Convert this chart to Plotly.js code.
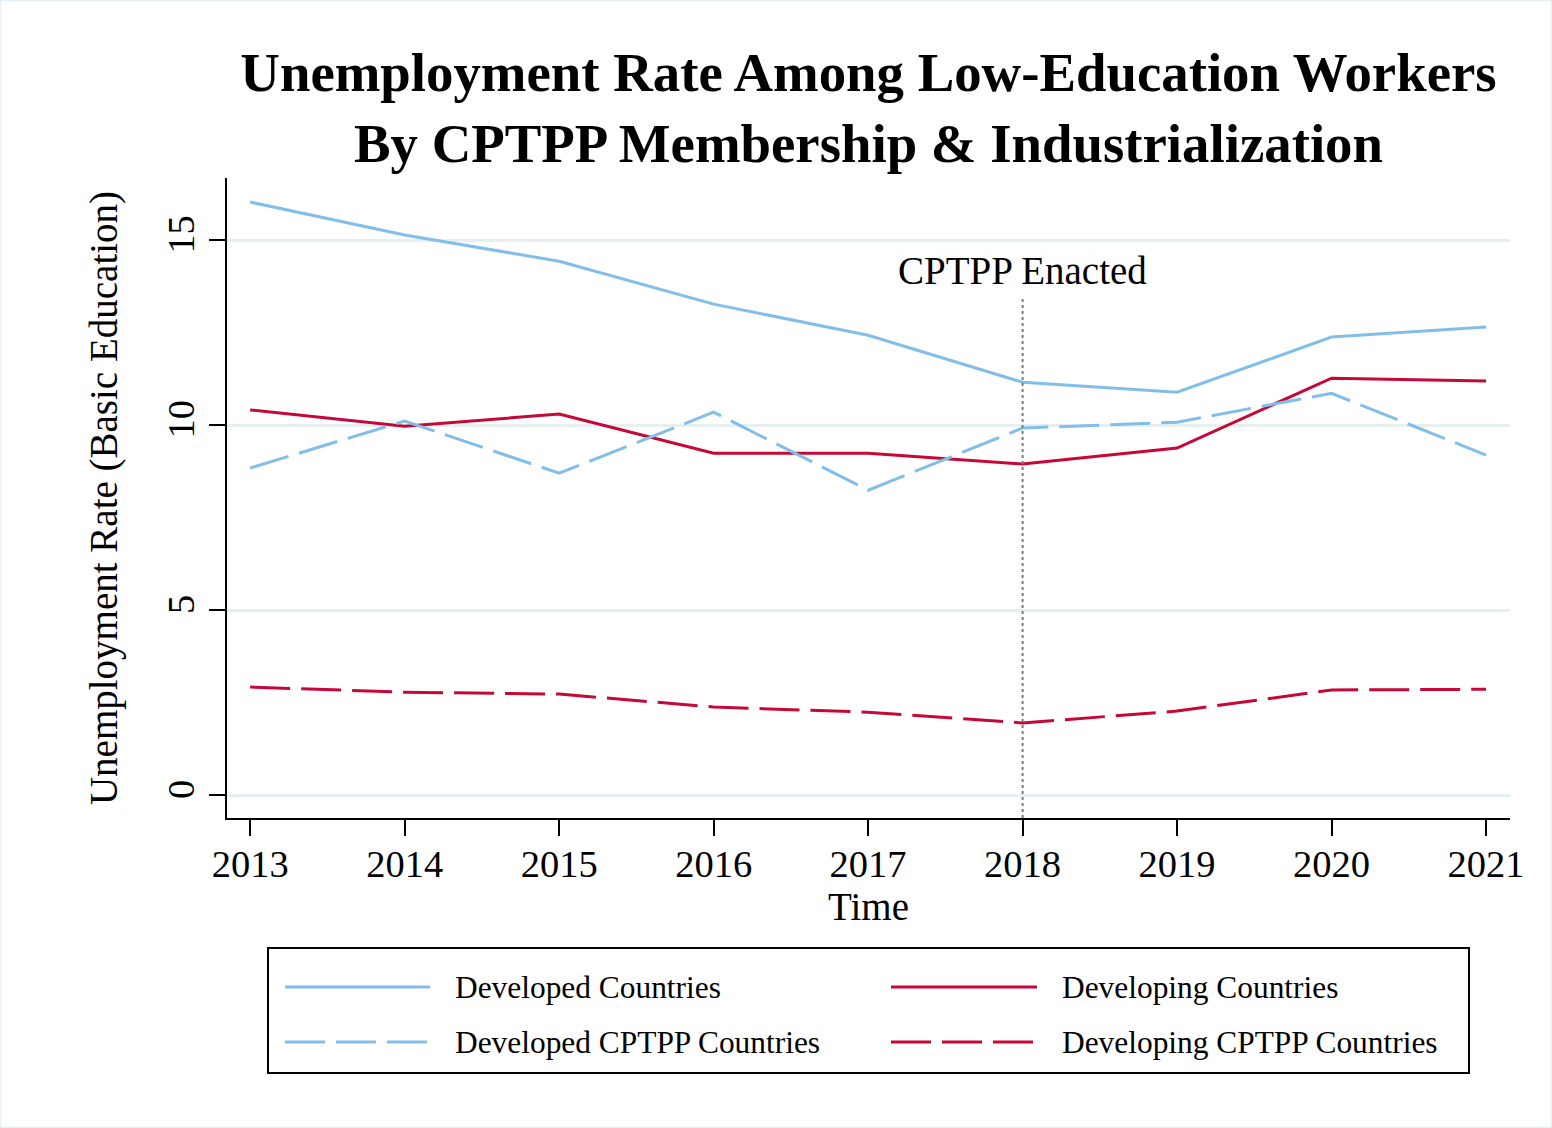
<!DOCTYPE html>
<html>
<head>
<meta charset="utf-8">
<script src="https://cdn.plot.ly/plotly-3.0.1.min.js"></script>
<style>html,body{margin:0;padding:0;background:#fff;}#chart{width:1552px;height:1128px;}</style>
</head>
<body>
<div id="chart"></div>
<script>
// ---- Data ----
const years = [2013, 2014, 2015, 2016, 2017, 2018, 2019, 2020, 2021];
const developed = [16.03, 15.14, 14.43, 13.27, 12.43, 11.16, 10.89, 12.38, 12.65];
const developing = [10.41, 9.97, 10.30, 9.24, 9.24, 8.95, 9.38, 11.27, 11.19];
const developedCPTPP = [8.84, 10.11, 8.70, 10.35, 8.24, 9.92, 10.08, 10.86, 9.19];
const developingCPTPP = [2.92, 2.78, 2.73, 2.38, 2.24, 1.95, 2.27, 2.84, 2.86];
const seriesNames = ["Developed Countries", "Developing Countries", "Developed CPTPP Countries", "Developing CPTPP Countries"];
const yTicks = [0, 5, 10, 15];
const eventYear = 2018;
const eventLabel = "CPTPP Enacted";

// ---- Styles ----
const BLUE = "#83bee8";
const RED = "#c60838";
const DASH = "40px,11px";
const FONT = "Liberation Serif, Times New Roman, serif";

const W = 1552, H = 1128;
const M = {l: 227, r: 42, t: 178, b: 310};
const pw = W - M.l - M.r, ph = H - M.t - M.b;
const px = x => (x - M.l) / pw;
const py = y => (H - M.b - y) / ph;

const styles = [
  {color: BLUE, dash: "solid"},
  {color: RED, dash: "solid"},
  {color: BLUE, dash: DASH},
  {color: RED, dash: DASH}
];
const values = [developed, developing, developedCPTPP, developingCPTPP];

const traces = values.map((v, i) => ({
  x: years, y: v, type: "scatter", mode: "lines", name: seriesNames[i],
  line: {color: styles[i].color, width: 3, dash: styles[i].dash},
  showlegend: false, hoverinfo: "skip"
}));

const shapes = [
  // faint outer frame of the graph region
  {type: "rect", xref: "paper", yref: "paper", x0: px(0.5), x1: px(W - 0.5), y0: py(H - 0.5), y1: py(0.5),
   line: {color: "#e6f0f5", width: 1.5}, fillcolor: "rgba(0,0,0,0)", layer: "below"},
  {type: "line", xref: "x", yref: "paper", x0: eventYear, x1: eventYear, y0: 0, y1: py(297),
   line: {color: "#7a7a7a", width: 2, dash: "dot"}},
  // legend box
  {type: "rect", xref: "paper", yref: "paper", x0: px(268), x1: px(1469), y0: py(1073), y1: py(948),
   line: {color: "#000", width: 2}, fillcolor: "rgba(0,0,0,0)"}
];
const annotations = [
  {x: eventYear, xref: "x", y: py(270), yref: "paper", text: eventLabel, showarrow: false,
   xanchor: "center", yanchor: "middle", font: {family: FONT, size: 39, color: "#000"}}
];
// manual legend entries
const colSample = [[285, 430], [891, 1037]];
const colText = [453, 1060];
const rowY = [987, 1042];
seriesNames.forEach((name, i) => {
  const col = i % 2, row = Math.floor(i / 2);
  shapes.push({type: "line", xref: "paper", yref: "paper",
    x0: px(colSample[col][0]), x1: px(colSample[col][1]), y0: py(rowY[row]), y1: py(rowY[row]),
    line: {color: styles[i].color, width: 3, dash: styles[i].dash}});
  annotations.push({xref: "paper", yref: "paper", x: px(colText[col]), y: py(rowY[row]),
    text: name, showarrow: false, xanchor: "left", yanchor: "middle",
    font: {family: FONT, size: 31.4, color: "#000"}});
});

const layout = {
  width: W, height: H,
  margin: M,
  paper_bgcolor: "#fff", plot_bgcolor: "#fff",
  font: {family: FONT, color: "#000"},
  title: {
    text: "Unemployment Rate Among Low-Education Workers<br>By CPTPP Membership & Industrialization",
    font: {family: FONT, size: 54.8, color: "#000", weight: "bold"},
    x: 0.5, xref: "paper", xanchor: "center",
    y: 1 - 91 / H, yref: "container", yanchor: "top"
  },
  xaxis: {
    range: [2012.85, 2021.155], tickvals: years, ticktext: years.map(String),
    showgrid: false, zeroline: false, showline: true, linecolor: "#000", linewidth: 2,
    ticks: "outside", ticklen: 16, tickwidth: 2, tickcolor: "#000",
    ticklabelstandoff: -5,
    tickfont: {family: FONT, size: 38.5, color: "#000"},
    title: {text: "Time", font: {family: FONT, size: 39, color: "#000"}, standoff: 0},
    fixedrange: true
  },
  yaxis: {
    range: [-0.62, 16.68], tickvals: yTicks, ticktext: yTicks.map(String),
    tickangle: -90,
    showgrid: true, gridcolor: "#e7f0f1", gridwidth: 3,
    zeroline: false, showline: true, linecolor: "#000", linewidth: 2,
    ticks: "outside", ticklen: 16, tickwidth: 2, tickcolor: "#000",
    tickfont: {family: FONT, size: 38.5, color: "#000"},
    title: {text: "Unemployment Rate (Basic Education)", font: {family: FONT, size: 39, color: "#000"}, standoff: 30},
    fixedrange: true
  },
  shapes: shapes,
  annotations: annotations,
  showlegend: false,
  hovermode: false
};

Plotly.newPlot("chart", traces, layout, {displayModeBar: false, staticPlot: true});
</script>
</body>
</html>
